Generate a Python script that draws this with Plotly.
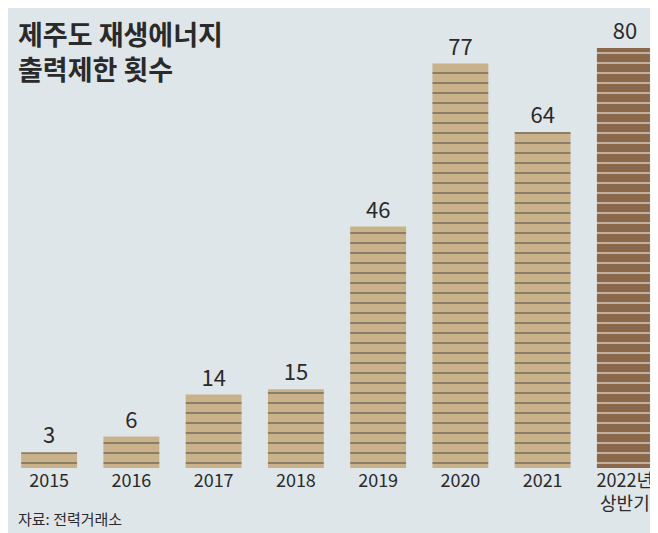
import plotly.graph_objects as go

categories = ["2015", "2016", "2017", "2018", "2019", "2020", "2021", "2022년<br>상반기"]
values = [3, 6, 14, 15, 46, 77, 64, 80]
bar_colors = ["#c9b28a"] * 7 + ["#8a6849"]
line_colors = ["#f3ecdf"] * 7 + ["#d4bc9c"]

FONT = "Noto Sans CJK KR"

fig = go.Figure(go.Bar(
    x=categories, y=values,
    text=[str(v) for v in values], textposition="outside",
    textfont=dict(size=22, color="#2a2a2a", family=FONT),
    marker=dict(color=bar_colors, line=dict(width=0),
                pattern=dict(shape="-", size=10, solidity=0.12, fgcolor=line_colors, fgopacity=0.8)),
    cliponaxis=False,
))

fig.update_layout(
    width=658, height=533,
    margin=dict(l=0, r=0, t=40, b=73),
    paper_bgcolor="#dfe6ea", plot_bgcolor="rgba(0,0,0,0)",
    bargap=0.32, showlegend=False,
    font=dict(family=FONT, color="#2a2a2a"),
    xaxis=dict(showgrid=False, showline=False, ticks="", range=[-0.5, 7.5],
               tickfont=dict(size=18, color="#2a2a2a", family=FONT)),
    yaxis=dict(visible=False, range=[0, 80]),
    annotations=[
        dict(text="<b>제주도 재생에너지<br>출력제한 횟수</b>", x=0.012, y=1.085,
             xref="paper", yref="paper", yanchor="top", xanchor="left",
             showarrow=False, align="left",
             font=dict(size=27, color="#2a2a2a", family=FONT)),
        dict(text="자료: 전력거래소", x=0.012, y=-0.12, xref="paper", yref="paper",
             xanchor="left", yanchor="middle", showarrow=False,
             font=dict(size=15, color="#2a2a2a", family=FONT)),
    ],
)

fig.write_html("out.html")
